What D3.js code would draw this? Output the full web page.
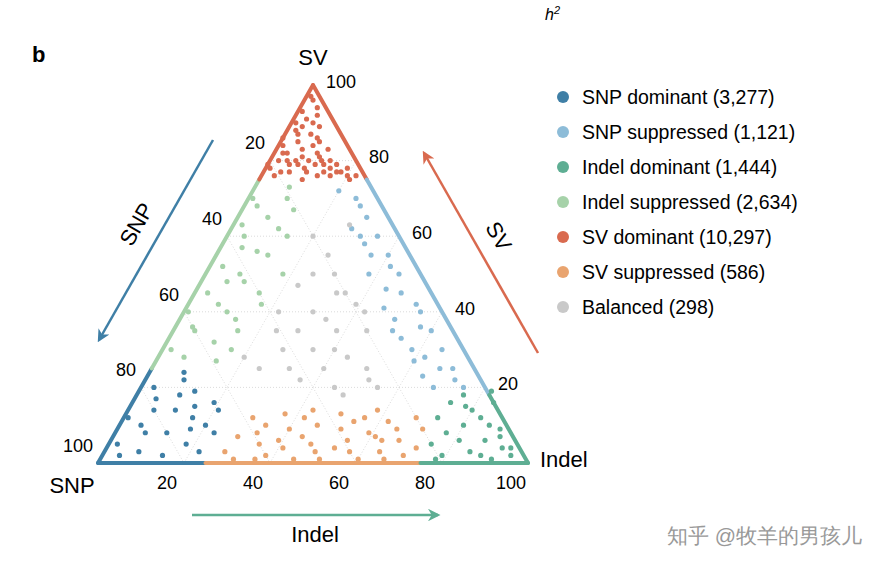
<!DOCTYPE html>
<html><head><meta charset="utf-8">
<script src="https://cdn.jsdelivr.net/npm/d3@7"></script>
<style>body{margin:0;background:#fff}text{font-family:"Liberation Sans",Arial,sans-serif}</style>
</head><body><svg id="c" width="885" height="569"></svg>
<script>
// points as [indel %, sv %]; snp = 100 - indel - sv
const svDominant=[[2,96],[1,93],[3,91],[5,90],[2,88],[6,87],[4,85],[8,84],[1,84],[10,82],[3,82],[7,81],[12,80],[5,79],[15,78],[1,78],[9,78],[18,77],[13,76],[3,76],[20,76],[6,77],[11,79],[14,80],[4,80],[8,86],[2,82],[16,79],[10,77],[0,79],[22,76],[7,89],[4,94],[1,97],[12,83],[9,80],[17,77],[3,87],[6,83],[19,78],[5,92],[3,89],[9,85],[11,81],[14,77],[21,75],[7,79],[0,86],[2,80],[16,76],[6,80],[13,79],[1,90],[10,75],[4,77]];
const svSuppressed=[[28,3],[33,8],[38,2],[42,12],[47,5],[52,9],[57,3],[62,11],[67,6],[70,2],[30,12],[35,5],[40,9],[45,1],[50,13],[55,6],[60,1],[65,9],[72,4],[31,1],[37,13],[44,7],[49,3],[54,11],[59,8],[64,3],[68,12],[34,10],[41,4],[58,14],[46,10],[63,6],[29,7],[39,6],[51,1],[56,12],[66,1],[71,9],[43,14],[53,4],[61,7],[36,1]];
const snpDominant=[[2,5],[5,10],[8,3],[12,8],[15,15],[3,20],[10,18],[18,5],[20,10],[6,14],[14,2],[22,3],[4,2],[9,22],[16,12],[1,12],[11,14],[19,16],[7,8],[23,8],[13,19],[17,9],[21,14],[5,17],[8,24]];
const indelDominant=[[75,5],[80,10],[85,3],[90,7],[78,15],[83,12],[88,2],[92,4],[76,18],[81,6],[86,10],[95,2],[79,2],[84,16],[73,12],[89,9],[77,8],[82,19],[87,6],[91,1],[74,16],[80,14],[94,4],[78,1]];
const indelSuppressed=[[2,30],[5,35],[10,40],[3,45],[8,50],[12,55],[4,60],[7,65],[15,45],[1,70],[6,28],[11,32],[14,60],[9,70],[3,52],[13,38],[5,57],[16,30],[2,63],[10,48],[7,42],[12,67],[18,50],[4,36],[8,73],[15,35],[1,40],[6,48],[11,62],[17,42],[3,68],[9,56],[14,27]];
const snpSuppressed=[[25,70],[30,65],[40,55],[45,50],[55,40],[60,35],[65,30],[72,22],[28,62],[38,50],[50,38],[58,30],[68,20],[35,60],[48,45],[62,28],[20,72],[42,52],[53,42],[70,25],[33,58],[57,36],[46,41],[64,23],[27,68],[51,35],[75,20],[36,55],[44,46],[60,27],[67,25],[31,60],[54,33]];
const balanced=[[20,60],[25,50],[30,40],[35,30],[40,25],[45,20],[22,40],[28,30],[33,45],[38,35],[42,40],[26,55],[30,50],[36,22],[40,30],[45,35],[50,25],[48,18],[24,35],[32,25],[27,63],[35,45],[55,20],[20,28],[44,28],[23,47],[29,35],[34,38],[39,42],[52,22],[25,25]];
const legendLabels=["SNP dominant (3,277)","SNP suppressed (1,121)","Indel dominant (1,444)","Indel suppressed (2,634)","SV dominant (10,297)","SV suppressed (586)","Balanced (298)"];
const colors=["#3f7fa6","#8dbcd8","#5eae93","#a6d2a9","#d96a4f","#e9a46f","#c9c9c9"];
const series=[snpDominant,snpSuppressed,indelDominant,indelSuppressed,svDominant,svSuppressed,balanced];
const ticks=[20,40,60,80,100];

const svg=d3.select("#c");
const A={x:98,y:463},B={x:528,y:463},C={x:313,y:85}; // SNP, Indel, SV
const f=d3.scaleLinear().domain([0,100]).range([0,1]);
function P(indel,sv){const i=f(indel),s=f(sv),n=1-i-s;return [A.x*n+B.x*i+C.x*s,A.y*n+B.y*i+C.y*s];}
const g=svg.append("g");
[20,40,60,80].forEach(v=>{
  [[P(v,0),P(v,100-v)],[P(0,v),P(100-v,v)],[P(0,100-v),P(100-v,0)]].forEach(l=>
    g.append("line").attr("x1",l[0][0]).attr("y1",l[0][1]).attr("x2",l[1][0]).attr("y2",l[1][1])
     .attr("stroke","#ccc").attr("stroke-width",0.7).attr("stroke-dasharray","1,2"));
});
function edge(p,q,c){const a=P(...p),b=P(...q);svg.append("line").attr("x1",a[0]).attr("y1",a[1]).attr("x2",b[0]).attr("y2",b[1]).attr("stroke",c).attr("stroke-width",4).attr("stroke-linecap","round");}
edge([0,0],[0,25],colors[0]);edge([0,25],[0,75],colors[3]);edge([0,75],[0,100],colors[4]);
edge([0,100],[25,75],colors[4]);edge([25,75],[82,18],colors[1]);edge([82,18],[100,0],colors[2]);
edge([0,0],[25,0],colors[0]);edge([25,0],[75,0],colors[5]);edge([75,0],[100,0],colors[2]);
series.forEach((s,k)=>svg.append("g").selectAll("circle").data(s).join("circle")
  .attr("cx",d=>P(d[0],d[1])[0]).attr("cy",d=>P(d[0],d[1])[1]).attr("r",2.6).attr("fill",colors[k]));
const fs="18px";
ticks.forEach(t=>{
  let p=P(t,0);svg.append("text").attr("x",p[0]-17).attr("y",p[1]+26).attr("text-anchor","middle").attr("font-size",fs).text(t);
  p=P(0,100-t);svg.append("text").attr("x",p[0]-5).attr("y",p[1]-16).attr("text-anchor","end").attr("font-size",fs).attr("dominant-baseline","middle").text(t);
  p=P(100-t,t);svg.append("text").attr("x",p[0]+13).attr("y",p[1]-2).attr("text-anchor","start").attr("font-size",fs).attr("dominant-baseline","middle").text(t);
});
svg.append("text").attr("x",313).attr("y",65).attr("text-anchor","middle").attr("font-size","22px").text("SV");
svg.append("text").attr("x",72).attr("y",493).attr("text-anchor","middle").attr("font-size","22px").text("SNP");
svg.append("text").attr("x",540).attr("y",467).attr("font-size","22px").text("Indel");
svg.append("text").attr("x",32).attr("y",62).attr("font-size","22px").attr("font-weight","bold").text("b");
svg.append("text").attr("x",545).attr("y",20).attr("font-size","16px").attr("font-style","italic").html("h<tspan dy='-6' font-size='11px'>2</tspan>");
const defs=svg.append("defs");
function arrow(x1,y1,x2,y2,c,id){
  defs.append("marker").attr("id",id).attr("viewBox","0 0 10 10").attr("refX",8).attr("refY",5).attr("markerWidth",5).attr("markerHeight",5).attr("orient","auto")
   .append("path").attr("d","M0,0L10,5L0,10L3,5Z").attr("fill",c);
  svg.append("line").attr("x1",x1).attr("y1",y1).attr("x2",x2).attr("y2",y2).attr("stroke",c).attr("stroke-width",2.5).attr("marker-end",`url(#${id})`);
}
arrow(213,140,99,340,colors[0],"a1");
arrow(538,353,424,153,colors[4],"a2");
arrow(192,515,438,515,colors[2],"a3");
svg.append("text").attr("transform","translate(143,228) rotate(-60)").attr("text-anchor","middle").attr("font-size","22px").text("SNP");
svg.append("text").attr("transform","translate(492,240) rotate(60)").attr("text-anchor","middle").attr("font-size","22px").text("SV");
svg.append("text").attr("x",315).attr("y",542).attr("text-anchor","middle").attr("font-size","22px").text("Indel");
const lg=svg.append("g").selectAll("g").data(legendLabels).join("g").attr("transform",(d,i)=>`translate(563,${97+i*35})`);
lg.append("circle").attr("r",6).attr("fill",(d,i)=>colors[i]);
lg.append("text").attr("x",19).attr("y",7).attr("font-size","19.5px").text(d=>d);
svg.append("text").attr("x",862).attr("y",543).attr("text-anchor","end").attr("font-size","21px").attr("fill","#999").attr("font-family","Noto Sans CJK SC").text("知乎 @牧羊的男孩儿");
</script></body></html>
